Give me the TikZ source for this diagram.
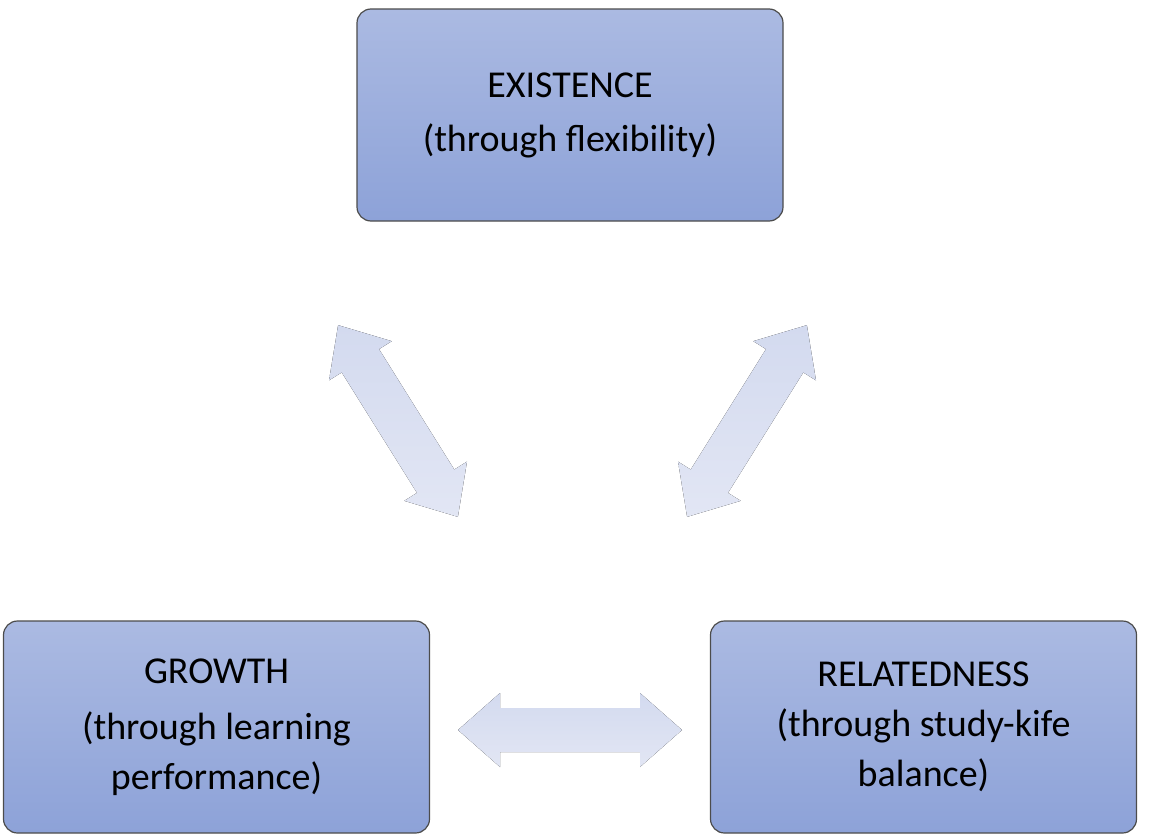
\documentclass[tikz,border=0pt]{standalone}
\usepackage{fontspec}
\setmainfont{Carlito}
\begin{document}
\begin{tikzpicture}[x=1pt,y=-1pt,
  box/.style={draw=black!70,line width=1.2pt,rounded corners=14pt,top color=boxtop,bottom color=boxbot,minimum width=426pt,minimum height=212pt,inner sep=0pt,align=center,font=\fontsize{38}{50}\selectfont},
  arr/.style={top color=arrA,bottom color=arrB,draw=none}]
\definecolor{boxtop}{HTML}{ABBAE2}
\definecolor{boxbot}{HTML}{8DA2D8}
\definecolor{arrA}{HTML}{D3DAEF}
\definecolor{arrB}{HTML}{E2E6F4}
\useasboundingbox (0,0) rectangle (1151,835);
\node[box] (ex) at (570,115) {EXISTENCE\\[4pt](through flexibility)};
\node[box] (gr) at (216.5,727) {GROWTH\\[6pt](through learning\\performance)};
\node[box] (re) at (923.5,727) {RELATEDNESS\\(through study-kife\\balance)};
\newcommand{\dblarrow}[3]{%
 \begin{scope}[shift={#1},rotate=#2]
 \fill[arr] (-#3/2,0) -- (-#3/2+42,-37) -- (-#3/2+42,-22) -- (#3/2-42,-22) -- (#3/2-42,-37) -- (#3/2,0) -- (#3/2-42,37) -- (#3/2-42,22) -- (-#3/2+42,22) -- (-#3/2+42,37) -- cycle;
 \end{scope}}
\coordinate (h) at (570,730);
\coordinate (l) at (398,421);
\coordinate (r) at (747,421);
\dblarrow{(h)}{0}{224}
\dblarrow{(l)}{-58}{226}
\dblarrow{(r)}{58}{226}
\end{tikzpicture}
\end{document}
